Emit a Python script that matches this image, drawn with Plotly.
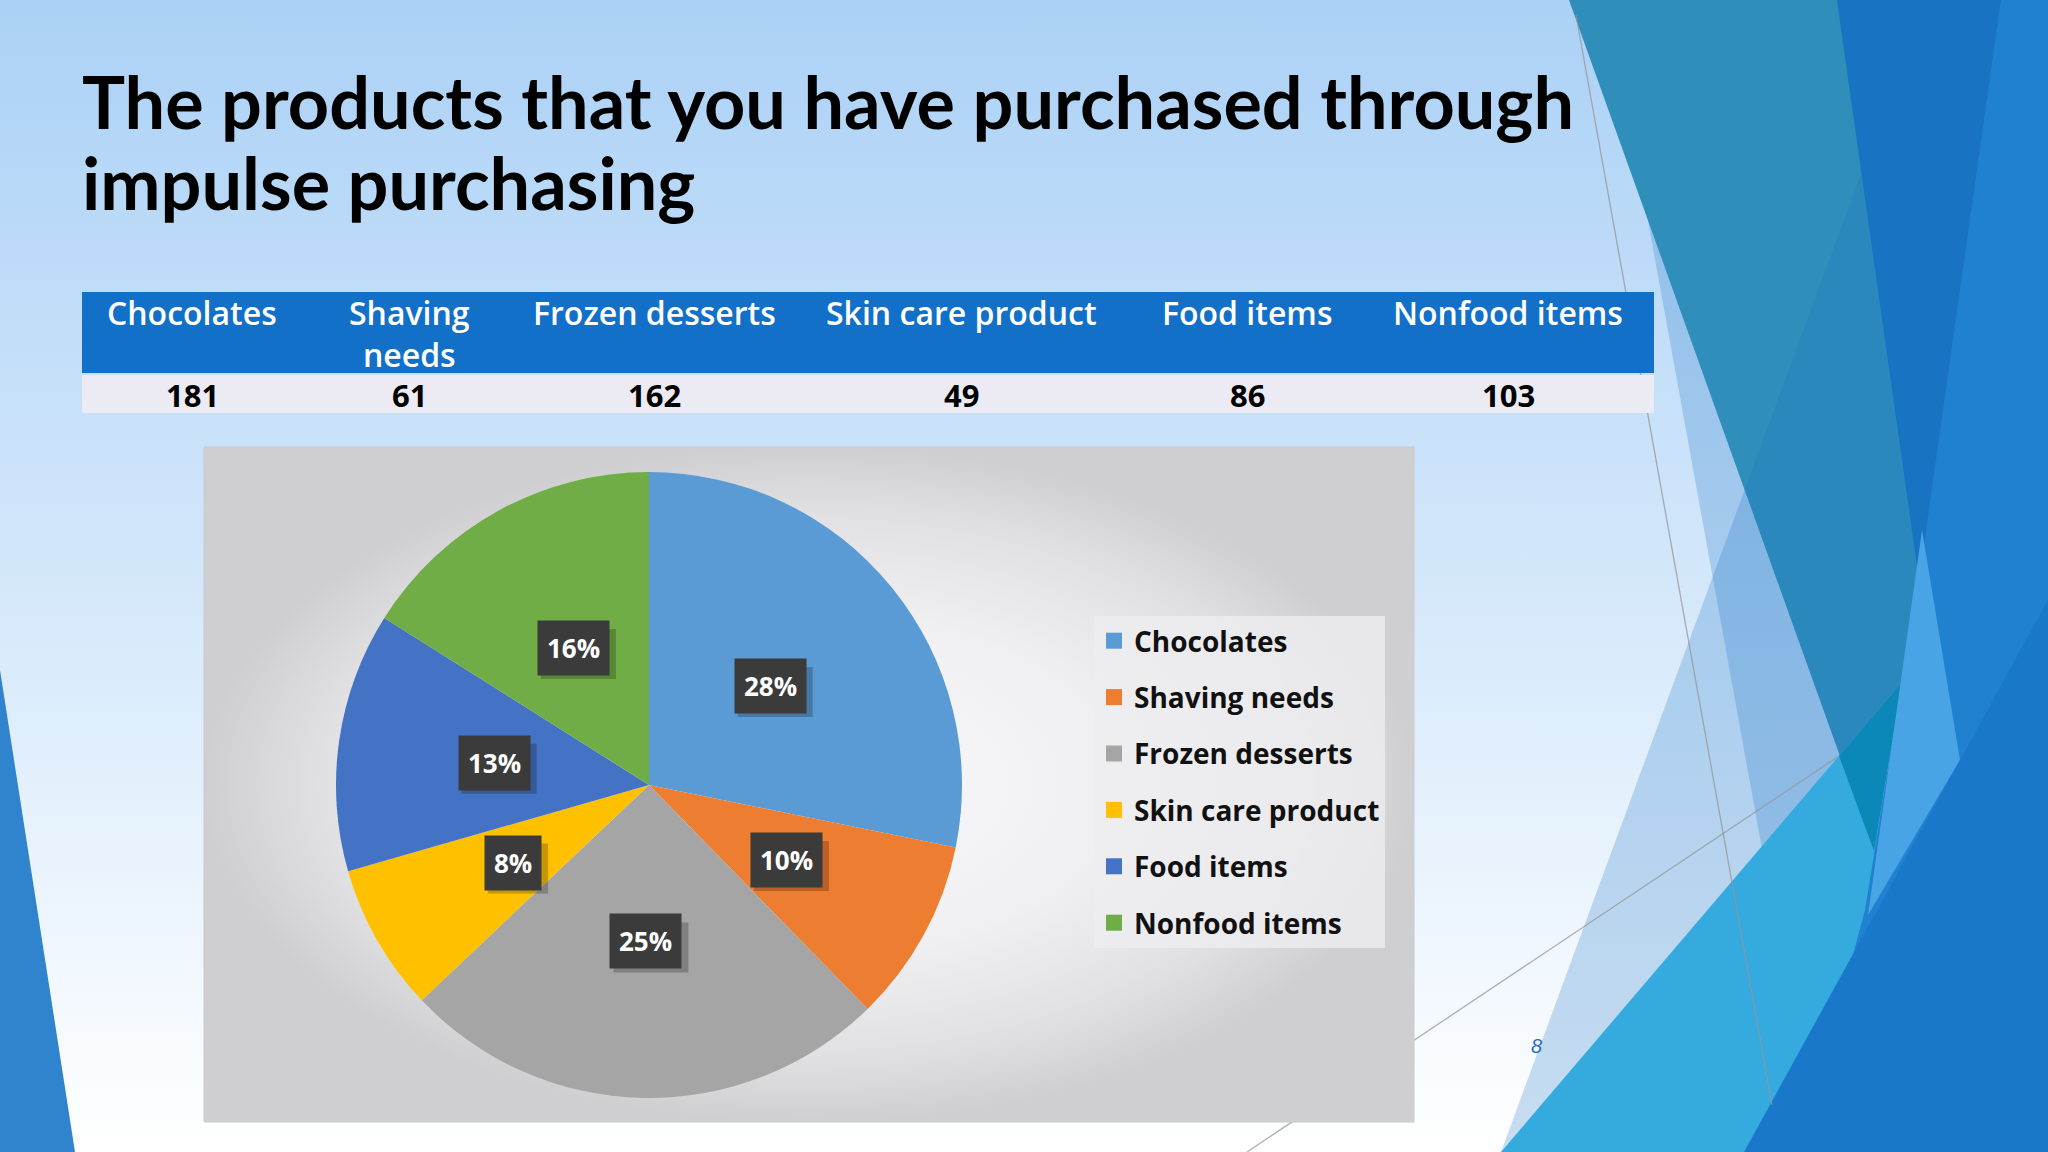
import math
import plotly.graph_objects as go

# ---------------- data ----------------
categories = ["Chocolates", "Shaving needs", "Frozen desserts",
              "Skin care product", "Food items", "Nonfood items"]
header_labels = ["Chocolates", "Shaving<br>needs", "Frozen desserts",
                 "Skin care product", "Food items", "Nonfood items"]
counts = [181, 61, 162, 49, 86, 103]
slice_colors = ["#5B9BD5", "#ED7D31", "#A5A5A5", "#FFC000", "#4472C4", "#70AD47"]
title_lines = ["The products that you have purchased through", "impulse purchasing"]
page_number = "8"

# ---------------- layout constants (pixels) ----------------
W, H = 2048, 1152
PIE_CX, PIE_CY, PIE_R = 649, 785, 313
TABLE_X0, TABLE_X1 = 82, 1654
HEADER_Y0, HEADER_Y1, ROW_Y1 = 292, 373, 413
col_widths = [220, 214, 276, 338, 234, 288]

fig = go.Figure()


def poly(points, color):
    xs = [p[0] for p in points] + [points[0][0]]
    ys = [p[1] for p in points] + [points[0][1]]
    return go.Scatter(x=xs, y=ys, mode="lines", fill="toself", fillcolor=color,
                      line=dict(width=0, color=color), hoverinfo="skip",
                      showlegend=False)


# slide background (vertical gradient)
fig.add_trace(go.Scatter(
    x=[0, W, W, 0, 0], y=[0, 0, H, H, 0], mode="lines", fill="toself",
    line=dict(width=0), hoverinfo="skip", showlegend=False,
    fillgradient=dict(type="vertical", start=0, stop=H,
                      colorscale=[[0, "#ABD1F6"], [0.45, "#CFE5FA"], [1, "#FFFFFF"]])))

# decorative facets
decor = [
    ([(1608, 0), (2048, 0), (2048, 1152), (1817, 1152)], "rgba(30,120,200,0.25)"),
    ([(1569, 0), (1850, 0), (1919, 580), (1874, 851)], "#2F8EBA"),
    ([(1925, 0), (2048, 0), (2048, 1152), (1501, 1152)], "rgba(30,120,200,0.25)"),
    ([(1837, 0), (2048, 0), (2048, 1152), (1744, 1152), (1874, 851), (1919, 580)], "#2181D1"),
    ([(1837, 0), (2001, 0), (1919, 580)], "#1874C3"),
    ([(1501, 1152), (1902, 682), (1865, 910), (1800, 1152)], "#35AADE"),
    ([(1839, 756), (1902, 682), (1874, 851)], "#0C88B8"),
    ([(1922, 530), (1960, 760), (1868, 915)], "#48A4E4"),
    ([(1744, 1152), (2048, 600), (2048, 1152)], "#1A78CB"),
    ([(0, 670), (75, 1152), (0, 1152)], "#2F84CD"),
]
for pts, col in decor:
    fig.add_trace(poly(pts, col))

# thin grey lines
for (x0, y0, x1, y1) in [(1576, 15, 1772, 1105), (1247, 1152, 1839, 756)]:
    fig.add_trace(go.Scatter(x=[x0, x1], y=[y0, y1], mode="lines",
                             line=dict(width=1.3, color="rgba(150,150,150,0.75)"),
                             hoverinfo="skip", showlegend=False))

# table backgrounds
fig.add_trace(poly([(TABLE_X0, HEADER_Y0), (TABLE_X1, HEADER_Y0),
                    (TABLE_X1, HEADER_Y1), (TABLE_X0, HEADER_Y1)], "#1270C8"))
fig.add_trace(poly([(TABLE_X0, HEADER_Y1 + 2), (TABLE_X1, HEADER_Y1 + 2),
                    (TABLE_X1, ROW_Y1), (TABLE_X0, ROW_Y1)], "#ECEBF3"))

# chart panel (radial gradient)
fig.add_trace(go.Scatter(
    x=[204, 1414, 1414, 204, 204], y=[447, 447, 1122, 1122, 447], mode="lines",
    fill="toself", line=dict(width=1, color="#CACACD"), hoverinfo="skip", showlegend=False,
    fillgradient=dict(type="radial",
                      colorscale=[[0, "#F9F9FB"], [0.5, "#F0F0F2"], [0.8, "#E1E1E3"],
                                  [1, "#CFCFD2"]])))

# legend entries (one group each so spacing can be controlled)
for name, col in zip(categories, slice_colors):
    fig.add_trace(go.Scatter(x=[None], y=[None], mode="markers", name=name,
                             marker=dict(symbol="square", size=17, color=col),
                             legendgroup=name, showlegend=True))

# pie
fig.add_trace(go.Pie(
    labels=categories, values=counts, sort=False, direction="clockwise",
    rotation=0, textinfo="none", hoverinfo="label+percent",
    marker=dict(colors=slice_colors, line=dict(width=0)),
    showlegend=False,
    domain=dict(x=[(PIE_CX - PIE_R) / W, (PIE_CX + PIE_R) / W],
                y=[1 - (PIE_CY + PIE_R) / H, 1 - (PIE_CY - PIE_R) / H])))

annotations = []
shapes = []

# table texts
edges = [TABLE_X0]
for w in col_widths:
    edges.append(edges[-1] + w)
for i, (lab, val) in enumerate(zip(header_labels, counts)):
    cx = (edges[i] + edges[i + 1]) / 2
    annotations.append(dict(x=cx, y=HEADER_Y0 - 3, xref="x", yref="y", text=lab,
                            showarrow=False, xanchor="center", yanchor="top",
                            align="center",
                            font=dict(family="Open Sans", size=32, color="white",
                                      weight=600)))
    annotations.append(dict(x=cx, y=395, xref="x", yref="y", text=str(val),
                            showarrow=False, xanchor="center", yanchor="middle",
                            font=dict(family="Open Sans", size=31, color="black",
                                      weight="bold")))

# percentage label boxes
total = sum(counts)
cum = 0
for v in counts:
    mid = (cum + v / 2) / total
    cum += v
    ang = 2 * math.pi * mid
    px = PIE_CX + 0.5 * PIE_R * math.sin(ang)
    py = PIE_CY - 0.5 * PIE_R * math.cos(ang)
    txt = f"{round(100 * v / total)}%"
    bw = 15 * (len(txt) - 1) + 23 + 22
    bh = 50
    shapes.append(dict(type="rect", xref="x", yref="y", layer="above",
                       x0=px - bw / 2 + 5, x1=px + bw / 2 + 5,
                       y0=py - bh / 2 + 6, y1=py + bh / 2 + 6,
                       fillcolor="rgba(0,0,0,0.22)", line=dict(width=0)))
    annotations.append(dict(x=px, y=py, xref="x", yref="y", text=txt,
                            showarrow=False, bgcolor="#3B3B3B", borderpad=9,
                            font=dict(family="Open Sans", size=26, color="white",
                                      weight="bold")))

# title
for i, line in enumerate(title_lines):
    annotations.append(dict(x=80, y=101 + 81 * i, xref="x", yref="y", text=line,
                            xanchor="left", yanchor="middle", showarrow=False,
                            font=dict(family="Lato", size=72, color="black", weight="bold")))

# page number
annotations.append(dict(x=1536, y=1046, xref="x", yref="y", text=page_number,
                        showarrow=False,
                        font=dict(family="Liberation Sans", size=20, color="#2C6FC0",
                                  style="italic")))

fig.update_layout(
    width=W, height=H, margin=dict(l=0, r=0, t=0, b=0),
    paper_bgcolor="#D0E6FA", plot_bgcolor="rgba(0,0,0,0)",
    xaxis=dict(range=[0, W], visible=False, fixedrange=True, domain=[0, 1]),
    yaxis=dict(range=[H, 0], visible=False, fixedrange=True, domain=[0, 1]),
    showlegend=True,
    legend=dict(x=1094 / W, y=1 - 616 / H, xanchor="left", yanchor="top",
                bgcolor="rgba(238,238,240,0.8)", tracegroupgap=17,
                font=dict(family="Open Sans", size=28, color="#111111", weight="bold")),
    annotations=annotations,
    shapes=shapes,
)

fig.write_html("out.html")
